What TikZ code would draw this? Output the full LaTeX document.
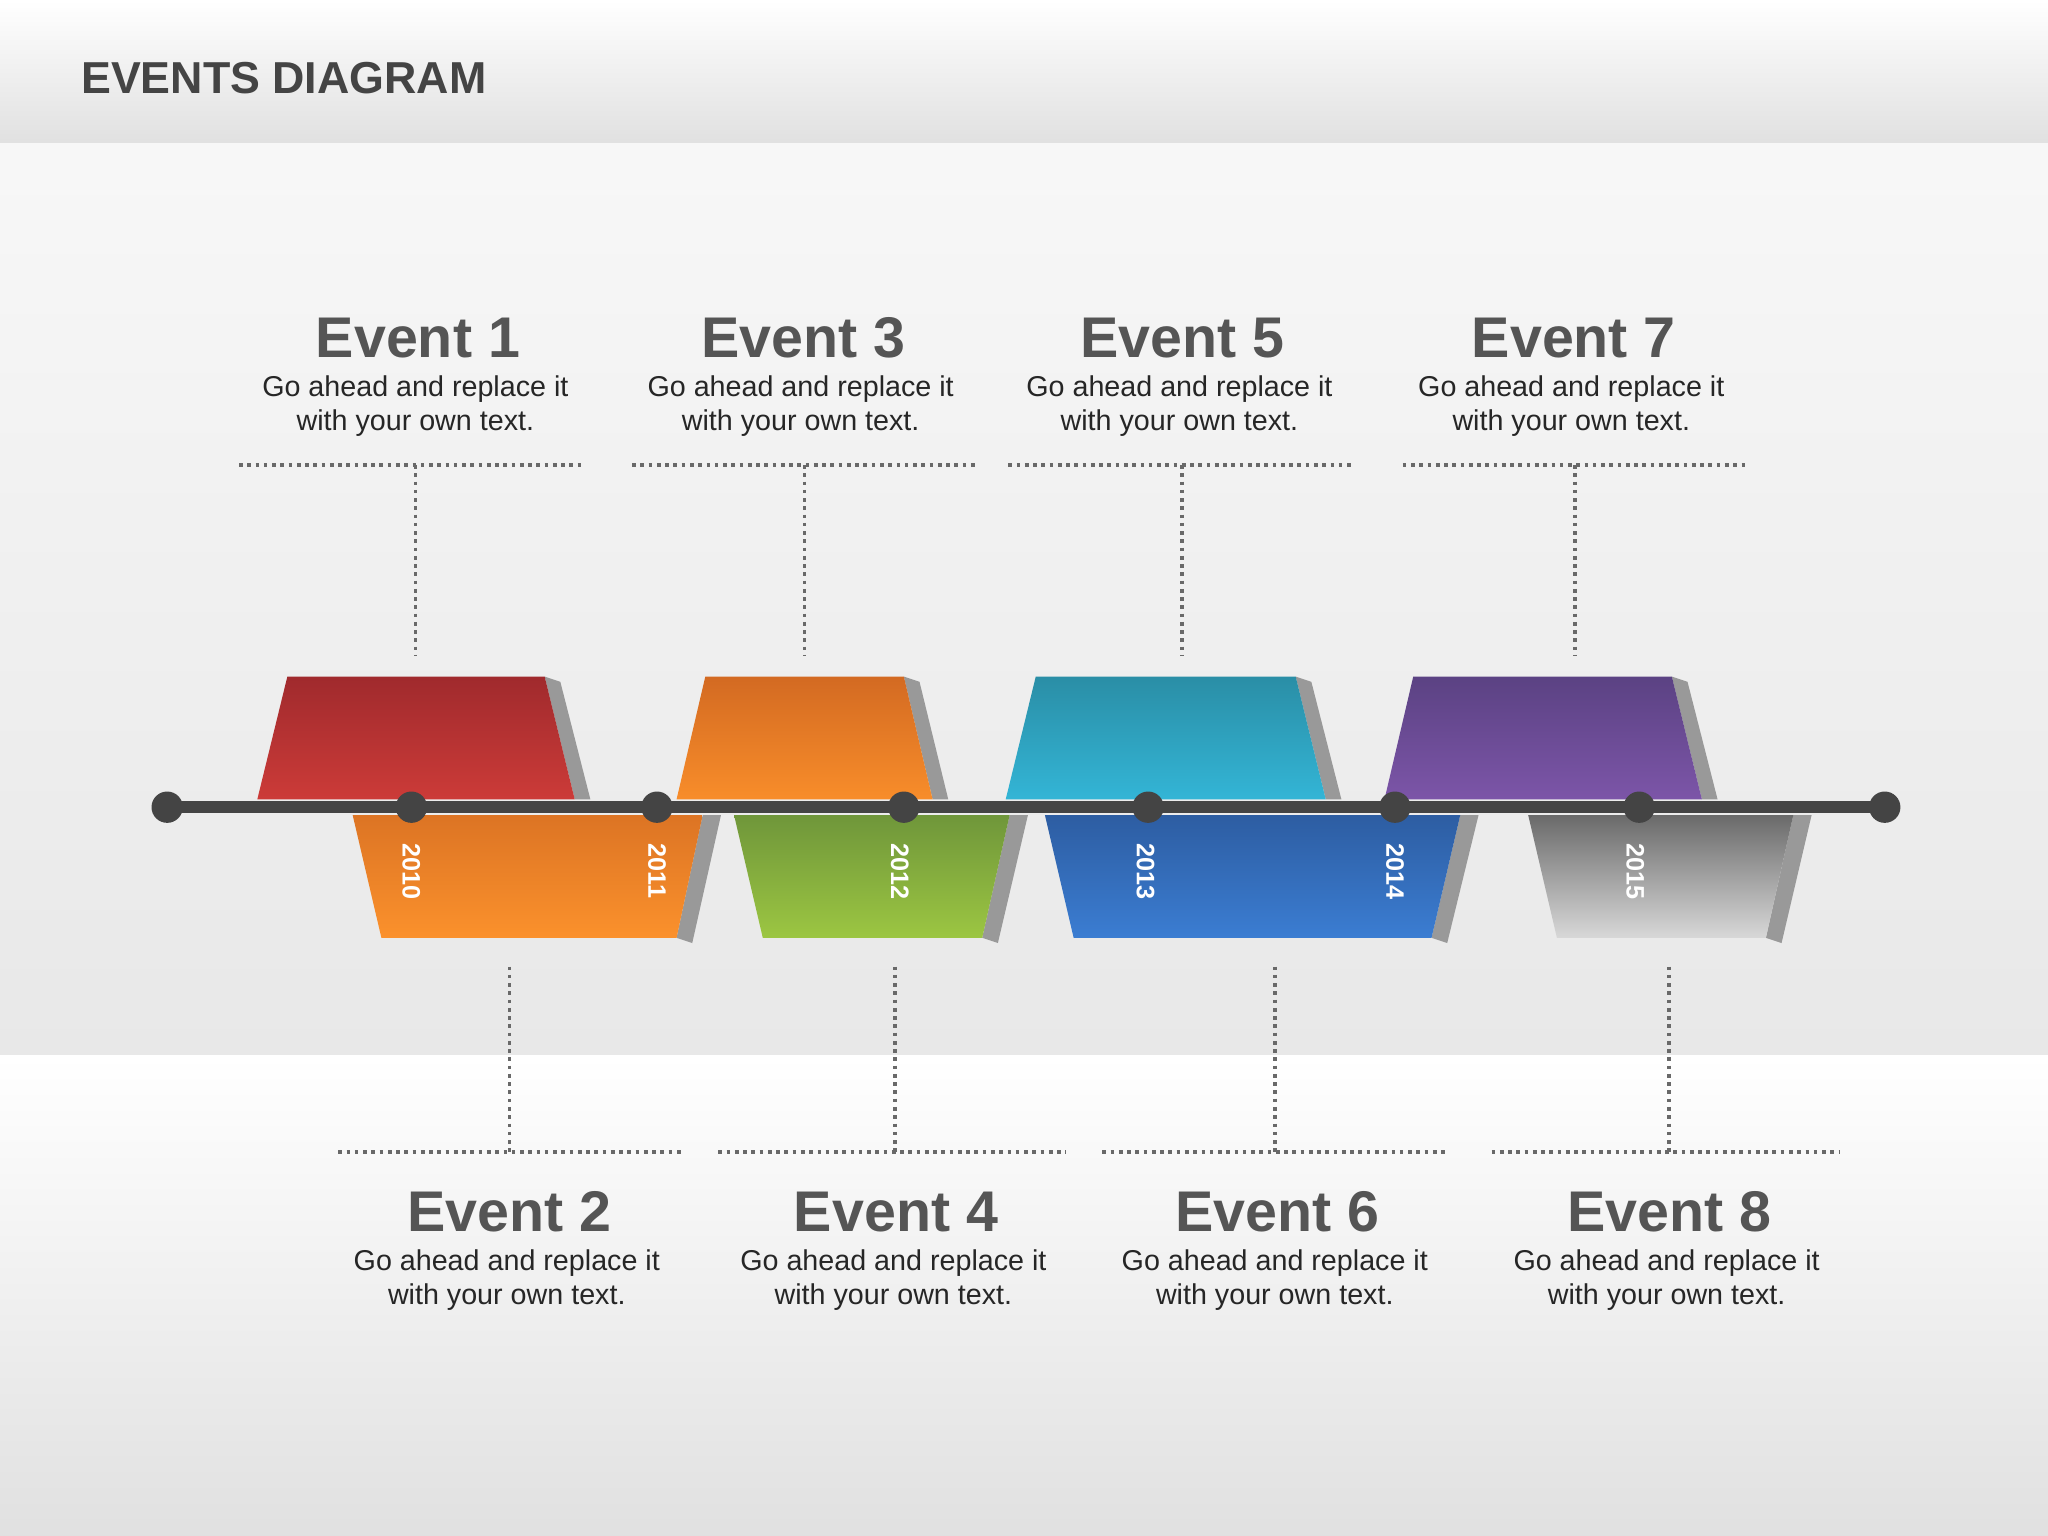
\documentclass[tikz,border=0pt]{standalone}
\usepackage{fontspec}
\setmainfont{Liberation Sans}
\definecolor{txt}{HTML}{555555}
\definecolor{line}{HTML}{444444}
\definecolor{c1a}{HTML}{A02A2D}\definecolor{c1b}{HTML}{CC3B38}
\definecolor{c2a}{HTML}{D36A22}\definecolor{c2b}{HTML}{F88D2A}
\definecolor{c3a}{HTML}{2A8EA6}\definecolor{c3b}{HTML}{33B5D6}
\definecolor{c4a}{HTML}{5B4283}\definecolor{c4b}{HTML}{7C55A8}
\definecolor{d1a}{HTML}{DC7424}\definecolor{d1b}{HTML}{FB912C}
\definecolor{d2a}{HTML}{6F963A}\definecolor{d2b}{HTML}{9CC642}
\definecolor{d3a}{HTML}{2D5DA2}\definecolor{d3b}{HTML}{3B7DD2}
\definecolor{d4a}{HTML}{6A6A6A}\definecolor{d4b}{HTML}{D8D8D8}
\begin{document}
\begin{tikzpicture}[x=0.02cm,y=-0.02cm,
  ttl/.style={font=\bfseries\fontsize{25}{28}\selectfont,text=txt},
  body/.style={font=\fontsize{12.5}{14.5}\selectfont,text=black!85,align=center},
  yr/.style={font=\bfseries\fontsize{11}{12}\selectfont,text=white,rotate=-90},
  dots/.style={line width=1.6pt,dotted,draw=line!80},
  shd/.style={fill=black!40},
  dot/.style={circle,fill=line,inner sep=0pt,minimum size=24*0.02cm}]
\useasboundingbox (0,0) rectangle (1568,1176);
\shade[top color=white,bottom color=black!12] (0,0) rectangle (1568,110);
\shade[top color=black!3,bottom color=black!9] (0,110) rectangle (1568,808);
\shade[top color=white,bottom color=black!12] (0,808) rectangle (1568,1176);
\node[anchor=west,font=\bfseries\fontsize{19.5}{22}\selectfont,text=line] (hdr) at (56,60) {EVENTS DIAGRAM};
% top shapes
\foreach \a/\b/\c/\d/\t/\u in {220/417/197/440/c1a/c1b,540/692/518/714/c2a/c2b,793/992/770/1015/c3a/c3b,1082/1280/1060/1303/c4a/c4b}{
  \fill[shd] (\b,518)--(\b+12,522)--(\d+12,612)--(\d,612)--cycle;
  \shade[top color=\t,bottom color=\u] (\a,518)--(\b,518)--(\d,612)--(\c,612)--cycle;
}
% bottom shapes
\foreach \a/\b/\c/\d/\t/\u in {270/538/292/518/d1a/d1b,562/773/584/752/d2a/d2b,800/1118/822/1096/d3a/d3b,1170/1373/1192/1352/d4a/d4b}{
  \fill[shd] (\b,624)--(\b+14,624)--(\d+12,722)--(\d,718)--cycle;
  \shade[top color=\t,bottom color=\u] (\a,624)--(\b,624)--(\d,718)--(\c,718)--cycle;
}
% timeline
\coordinate (L) at (128,618); \coordinate (R) at (1443,618);
\draw[line,line width=5pt] (L)--(R);
\foreach \x [count=\i] in {128,315,503,692,879,1068,1255,1443}
  \node[dot] (d\i) at (\x,618) {};
\foreach \x/\y in {315/2010,503/2011,689/2012,877/2013,1068/2014,1252/2015}
  \node[yr] (y\y) at (\x,667) {\y};
% top events
\foreach \n/\l/\r/\c/\tx in {1/183/448/318/320,3/484/749/616/615,5/772/1037/905/905,7/1074/1339/1206/1205}{
  \node[ttl] (t\n) at (\tx,259) {Event \n};
  \node[body] (b\n) at (\tx-2,311) {Go ahead and replace it\\with your own text.};
  \coordinate (hl\n) at (\l,356); \coordinate (hr\n) at (\r,356);
  \coordinate (vt\n) at (\c,356); \coordinate (vb\n) at (\c,502);
  \draw[dots] (hl\n)--(hr\n); \draw[dots] (vt\n)--(vb\n);
}
% bottom events
\foreach \n/\l/\r/\c/\tx in {2/259/524/390/390,4/550/816/685/686,6/844/1109/976/978,8/1142/1408/1278/1278}{
  \node[ttl] (t\n) at (\tx,928) {Event \n};
  \node[body] (b\n) at (\tx-2,980) {Go ahead and replace it\\with your own text.};
  \coordinate (hl\n) at (\l,882); \coordinate (hr\n) at (\r,882);
  \coordinate (vt\n) at (\c,740); \coordinate (vb\n) at (\c,882);
  \draw[dots] (hl\n)--(hr\n); \draw[dots] (vt\n)--(vb\n);
}
\end{tikzpicture}
\end{document}
